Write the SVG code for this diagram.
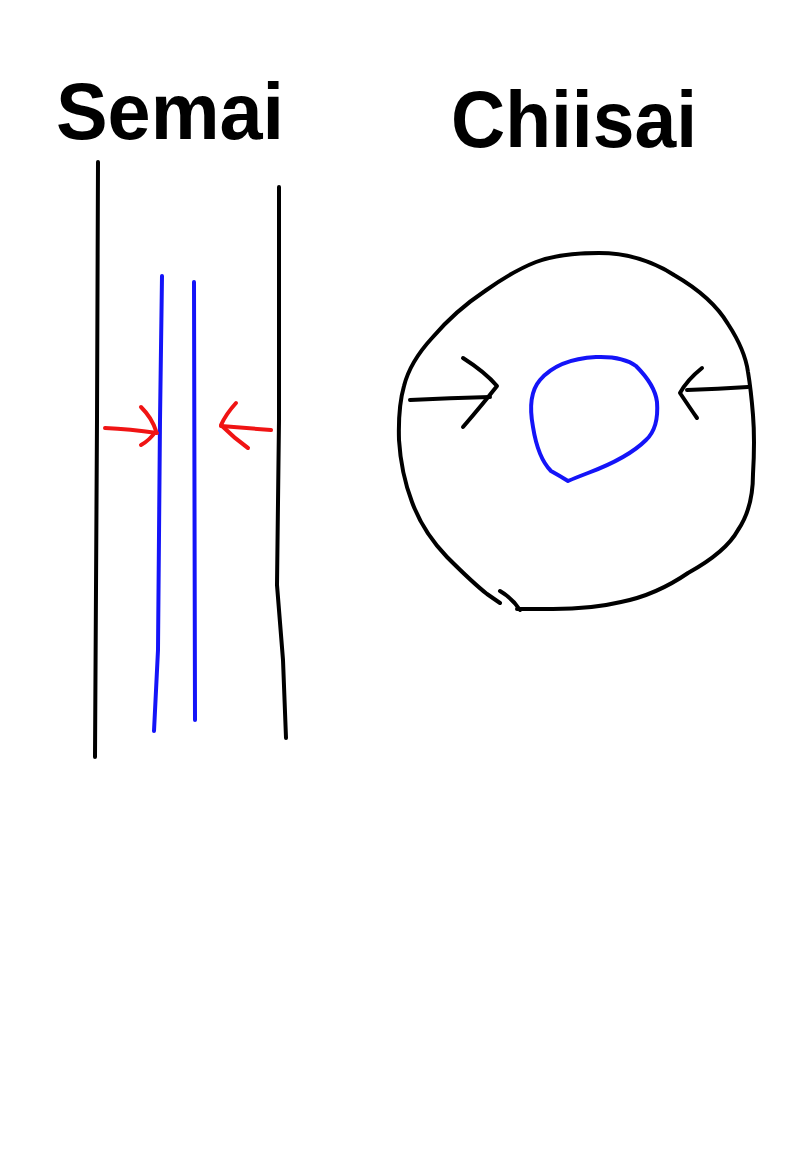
<svg xmlns="http://www.w3.org/2000/svg" width="800" height="1170" viewBox="0 0 800 1170">
<style>
.t{font-family:"Liberation Sans",Arial,sans-serif;font-weight:bold;font-size:80px;fill:#000}
.k{fill:none;stroke:#000;stroke-width:4;stroke-linecap:round;stroke-linejoin:round}
.b{fill:none;stroke:#1414f8;stroke-width:4;stroke-linecap:round;stroke-linejoin:round}
.r{fill:none;stroke:#f01414;stroke-width:4;stroke-linecap:round;stroke-linejoin:round}
</style>
<rect width="800" height="1170" fill="#fff"/>
<g id="semai">
<text class="t" x="56" y="139" textLength="228" lengthAdjust="spacingAndGlyphs">Semai</text>
<path class="k" d="M98,162 L97,420 L95,757"/>
<path class="k" d="M279,187 L279,420 L277,585 L283,660 L286,738"/>
<path class="b" d="M162,276 L160,420 L158,650 L154,731"/>
<path class="b" d="M194,282 L195,720"/>
<path class="r" d="M105,428 Q130,429 157,433"/>
<path class="r" d="M141,407 Q152,418 156,431 Q150,440 141,445"/>
<path class="r" d="M271,430 Q245,428 221,426"/>
<path class="r" d="M236,403 Q226,414 221,425 Q234,438 248,448"/>
</g>
<g id="chiisai">
<text class="t" x="451" y="147" textLength="246" lengthAdjust="spacingAndGlyphs">Chiisai</text>
<path class="k" d="M517,609 L553,609 Q592,609 621,602 Q656,595 688,573 Q726,552 738,530 Q753,508 753,474 Q755,440 753,415 Q751,390 748,372 Q745,350 728,324 Q712,297 674,275 Q640,253 599,253 Q560,253 536,262 Q513,271 485,291 Q455,311 432,338 Q410,362 404,386 Q398,407 399,440 Q401,473 412,502 Q423,532 447,557 Q473,583 487,594 L500,603"/>
<path class="k" d="M500,591 Q512,598 520,610"/>
<path class="k" d="M410,400 Q450,398 490,397"/>
<path class="k" d="M463,358 Q485,372 497,386 Q482,405 463,427"/>
<path class="k" d="M748,387 Q718,389 687,390"/>
<path class="k" d="M702,368 Q687,380 680,393 Q690,408 697,418"/>
<path class="b" d="M568,481 Q560,476 551,471 Q538,458 533,427 Q527,395 540,380 Q558,359 596,357 Q623,356 636,366 Q655,385 657,402 Q659,428 646,440 Q628,458 588,473 Q575,478 568,481"/>
</g>
</svg>
